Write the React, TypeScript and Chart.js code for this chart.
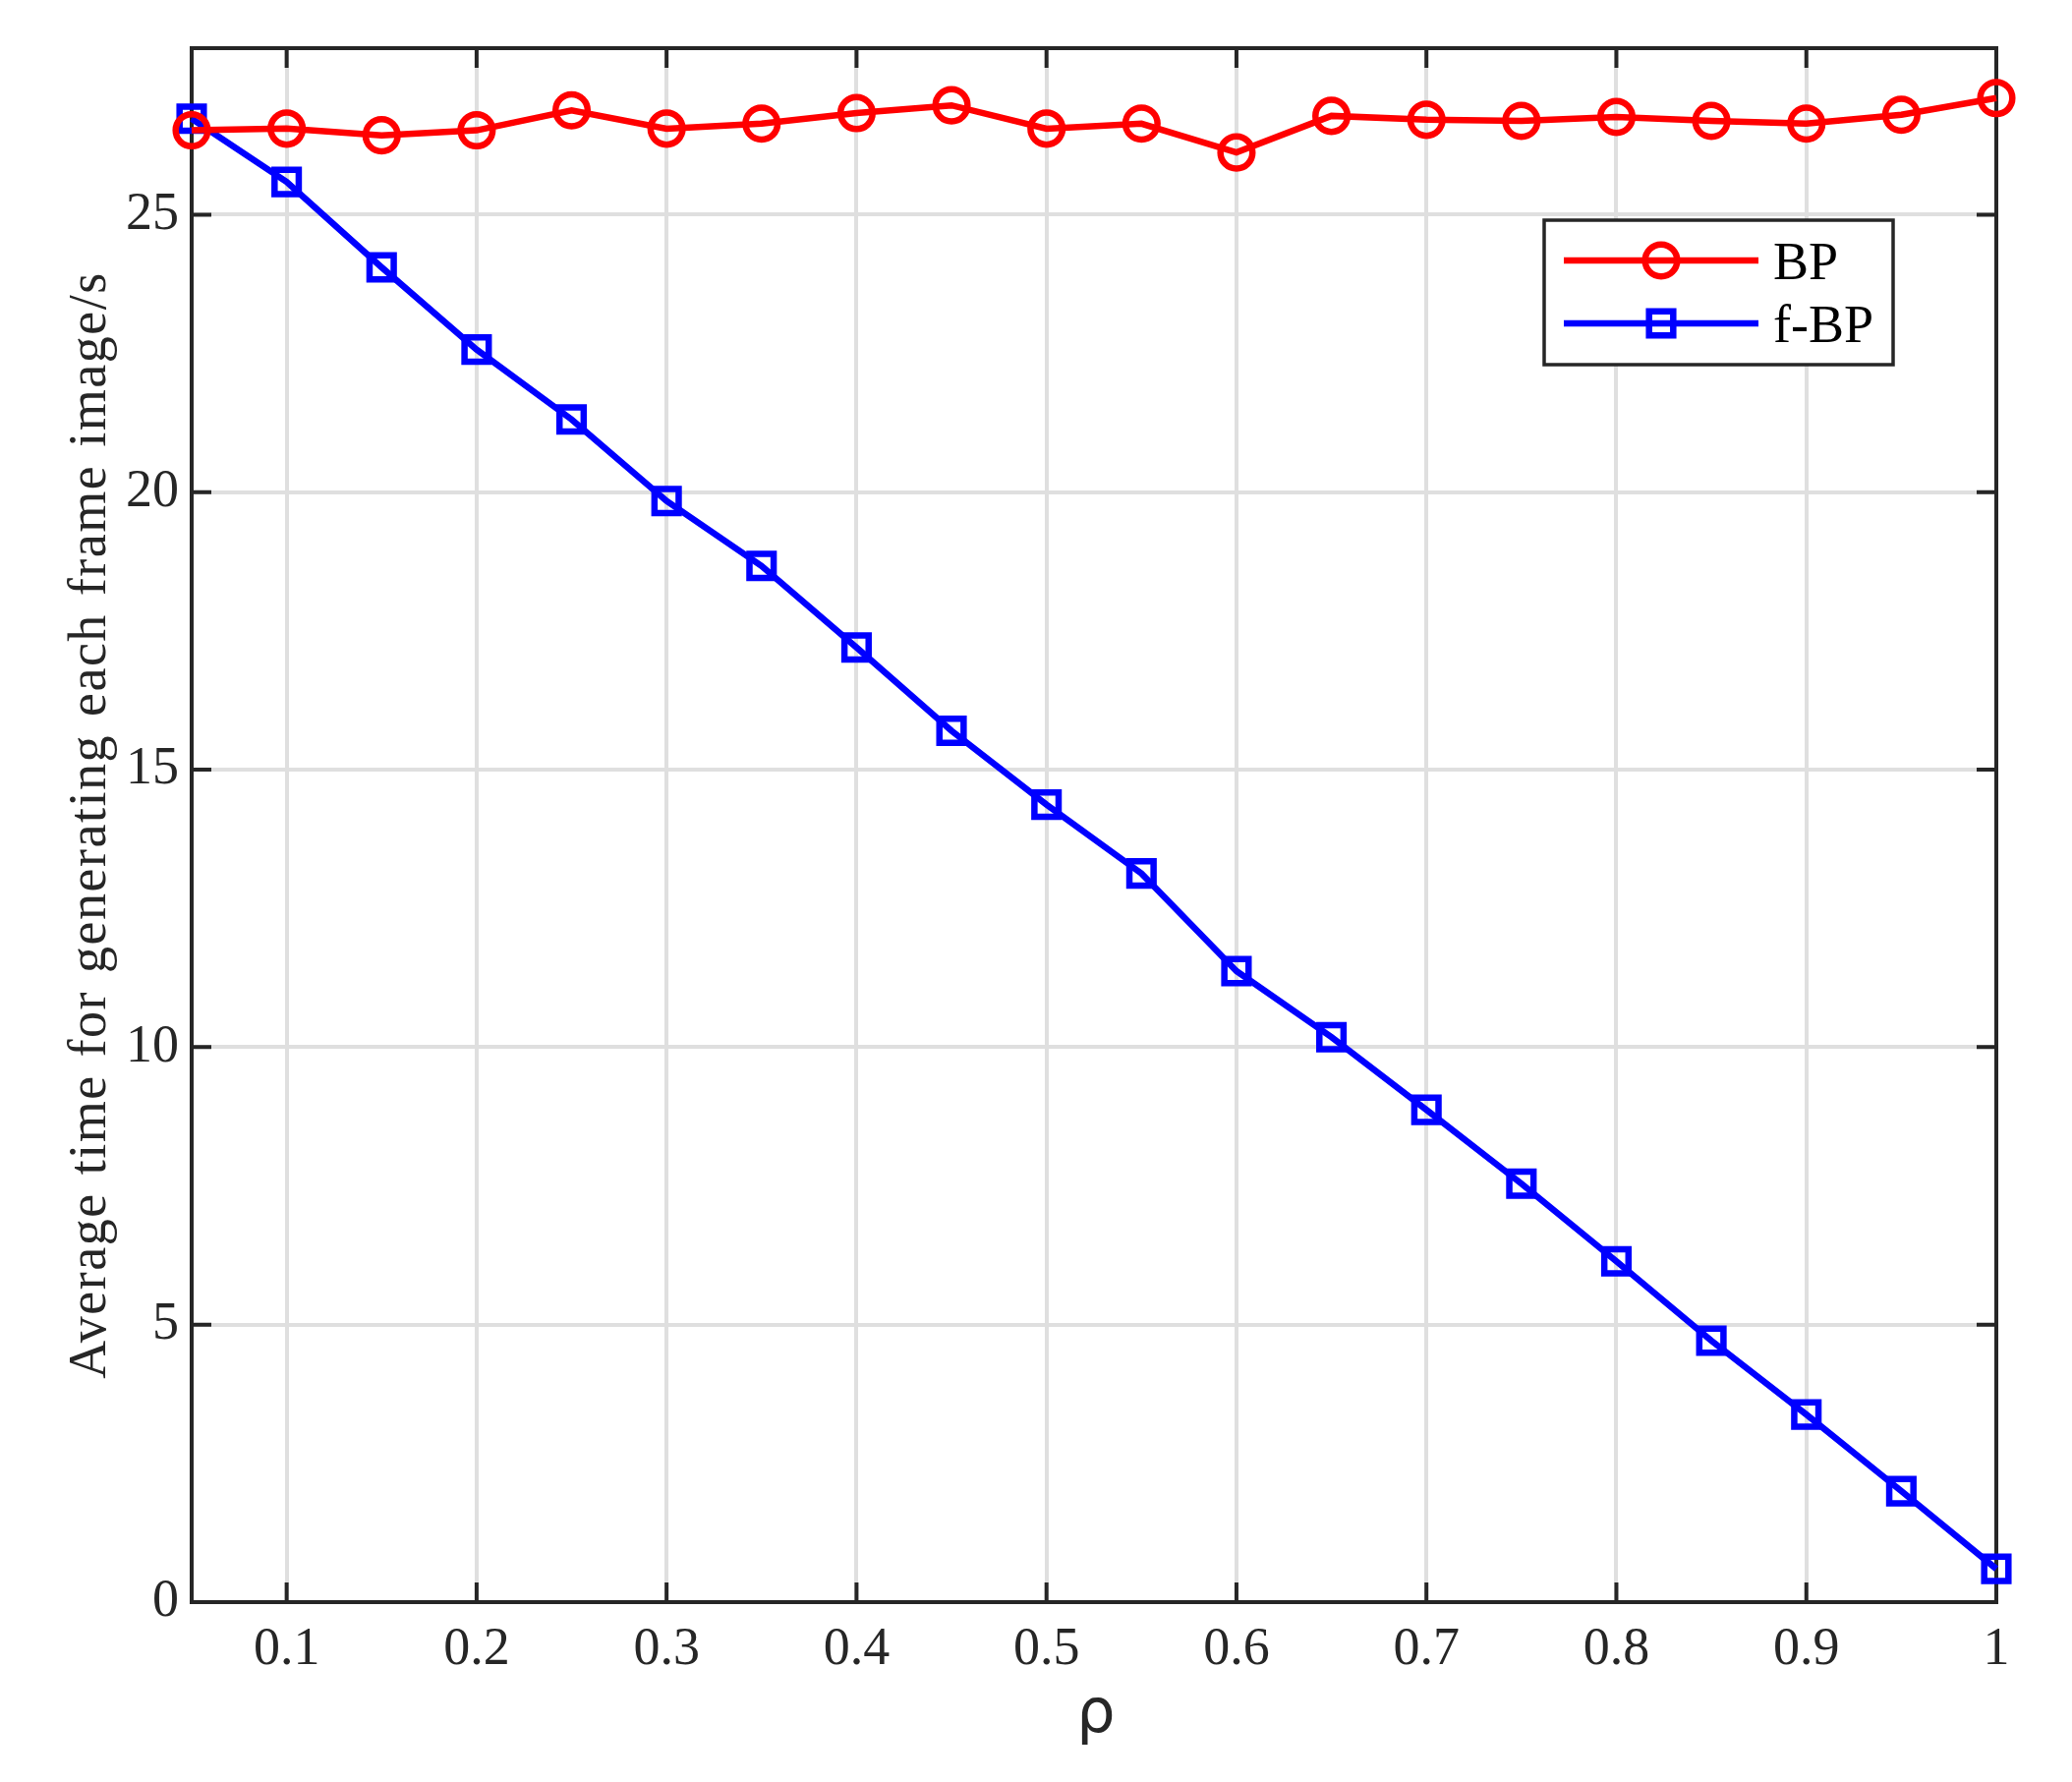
import React, { useEffect, useRef } from "react";
import { Chart, registerables } from "chart.js";

Chart.register(...registerables);

const rho = [0.05, 0.1, 0.15, 0.2, 0.25, 0.3, 0.35, 0.4, 0.45, 0.5, 0.55, 0.6, 0.65, 0.7, 0.75, 0.8, 0.85, 0.9, 0.95, 1.0];
const bpTime = [26.52, 26.55, 26.43, 26.52, 26.88, 26.55, 26.64, 26.83, 26.97, 26.55, 26.64, 26.12, 26.78, 26.71, 26.69, 26.76, 26.69, 26.64, 26.8, 27.1];
const fbpTime = [26.73, 25.59, 24.05, 22.57, 21.31, 19.84, 18.67, 17.2, 15.7, 14.37, 13.13, 11.37, 10.18, 8.87, 7.54, 6.14, 4.71, 3.38, 2.0, 0.6];
const xTickValues = [0.1, 0.2, 0.3, 0.4, 0.5, 0.6, 0.7, 0.8, 0.9, 1];
const yTickValues = [0, 5, 10, 15, 20, 25];
const seriesNames = ["BP", "f-BP"];
const xTitle = "ρ";
const yTitle = "Average time for generating each frame image/s";

const W = 2108;
const H = 1813;
const AXIS = "#262626";
const GRID = "#dfdfdf";
const SERIF = "'Liberation Serif', 'Times New Roman', serif";
const SANS = "'DejaVu Sans', 'Liberation Sans', sans-serif";
const LW = 6.5;

const framePlugin = {
  id: "matlabFrame",
  beforeDatasetsDraw(chart: any) {
    const { ctx, chartArea: a, scales } = chart;
    const xs = scales.x;
    const ys = scales.y;
    ctx.save();
    ctx.strokeStyle = AXIS;
    ctx.lineWidth = 4;
    ctx.lineCap = "butt";
    const tl = 20;
    ctx.beginPath();
    xTickValues.forEach((v) => {
      const px = xs.getPixelForValue(v);
      ctx.moveTo(px, a.bottom);
      ctx.lineTo(px, a.bottom - tl);
      ctx.moveTo(px, a.top);
      ctx.lineTo(px, a.top + tl);
    });
    yTickValues.forEach((v) => {
      const py = ys.getPixelForValue(v);
      ctx.moveTo(a.left, py);
      ctx.lineTo(a.left + tl, py);
      ctx.moveTo(a.right, py);
      ctx.lineTo(a.right - tl, py);
    });
    ctx.stroke();
    ctx.lineJoin = "miter";
    ctx.strokeRect(a.left, a.top, a.right - a.left, a.bottom - a.top);
    ctx.restore();
  },
  afterDraw(chart: any) {
    const { ctx, chartArea: a } = chart;
    ctx.save();
    ctx.fillStyle = AXIS;
    ctx.textAlign = "center";
    ctx.textBaseline = "alphabetic";
    ctx.font = `62px ${SANS}`;
    ctx.fillText(xTitle, (a.left + a.right) / 2 + 2, 1762);
    ctx.translate(107, (a.top + a.bottom) / 2);
    ctx.rotate(-Math.PI / 2);
    ctx.font = `54px ${SERIF}`;
    try {
      (ctx as any).wordSpacing = "3px";
      (ctx as any).letterSpacing = "1.5px";
    } catch (e) {}
    ctx.fillText(yTitle, 0, 0);
    ctx.restore();

    // legend
    ctx.save();
    const bx = 1571, by = 224, bw = 355, bh = 147;
    ctx.fillStyle = "#ffffff";
    ctx.fillRect(bx, by, bw, bh);
    ctx.strokeStyle = AXIS;
    ctx.lineWidth = 3.5;
    ctx.strokeRect(bx, by, bw, bh);
    const rows = [
      { y: 265, color: "#ff0000", style: "circle" },
      { y: 329, color: "#0000ff", style: "rect" },
    ];
    rows.forEach((r, i) => {
      ctx.strokeStyle = r.color;
      ctx.lineWidth = LW;
      ctx.beginPath();
      ctx.moveTo(1591, r.y);
      ctx.lineTo(1789, r.y);
      ctx.stroke();
      ctx.beginPath();
      if (r.style === "circle") {
        ctx.arc(1690, r.y, 16.3, 0, Math.PI * 2);
      } else {
        ctx.rect(1690 - 12.3, r.y - 12.3, 24.6, 24.6);
      }
      ctx.stroke();
      ctx.fillStyle = "#000000";
      ctx.font = `54px ${SERIF}`;
      ctx.textAlign = "left";
      ctx.textBaseline = "alphabetic";
      ctx.fillText(seriesNames[i], 1804, r.y + 19);
    });
    ctx.restore();
  },
};

export default function App() {
  const ref = useRef<HTMLCanvasElement | null>(null);
  useEffect(() => {
    document.body.style.margin = "0";
    const canvas = ref.current;
    if (!canvas) return;
    const chart = new Chart(canvas, {
      type: "line",
      data: {
        datasets: [
          {
            label: seriesNames[0],
            data: rho.map((x, i) => ({ x, y: bpTime[i] })),
            borderColor: "#ff0000",
            borderWidth: LW,
            pointStyle: "circle",
            pointRadius: 16.3,
            pointBorderWidth: LW,
            pointBorderColor: "#ff0000",
            pointBackgroundColor: "rgba(0,0,0,0)",
            tension: 0,
            clip: false as any,
          },
          {
            label: seriesNames[1],
            data: rho.map((x, i) => ({ x, y: fbpTime[i] })),
            borderColor: "#0000ff",
            borderWidth: LW,
            pointStyle: "rect",
            pointRadius: 17.4,
            pointBorderWidth: LW,
            pointBorderColor: "#0000ff",
            pointBackgroundColor: "rgba(0,0,0,0)",
            tension: 0,
            clip: false as any,
          },
        ],
      },
      options: {
        responsive: false,
        animation: false,
        devicePixelRatio: 1,
        layout: { padding: { top: 49, right: 77, bottom: 0, left: 0 } },
        plugins: { legend: { display: false }, tooltip: { enabled: false }, title: { display: false } },
        scales: {
          x: {
            type: "linear",
            min: 0.05,
            max: 1,
            afterBuildTicks: (s: any) => {
              s.ticks = xTickValues.map((v) => ({ value: v }));
            },
            afterFit: (s: any) => {
              s.height = H - 1630;
            },
            grid: { color: GRID, lineWidth: 4, drawTicks: false },
            border: { display: false },
            ticks: {
              padding: 16,
              color: AXIS,
              font: { family: SERIF, size: 54 },
              maxRotation: 0,
              autoSkip: false,
              callback: (v: any) => String(Number(v)),
            },
          },
          y: {
            type: "linear",
            min: 0,
            max: 28,
            afterBuildTicks: (s: any) => {
              s.ticks = yTickValues.map((v) => ({ value: v }));
            },
            afterFit: (s: any) => {
              s.width = 195;
            },
            grid: { color: GRID, lineWidth: 4, drawTicks: false },
            border: { display: false },
            ticks: {
              padding: 13,
              color: AXIS,
              font: { family: SERIF, size: 54 },
              autoSkip: false,
              callback: (v: any) => String(Number(v)),
            },
          },
        },
      },
      plugins: [framePlugin],
    });
    return () => chart.destroy();
  }, []);
  return (
    <div style={{ position: "absolute", left: 0, top: 0, width: W, height: H, background: "#ffffff" }}>
      <canvas ref={ref} width={W} height={H} style={{ width: W, height: H, display: "block" }} />
    </div>
  );
}
